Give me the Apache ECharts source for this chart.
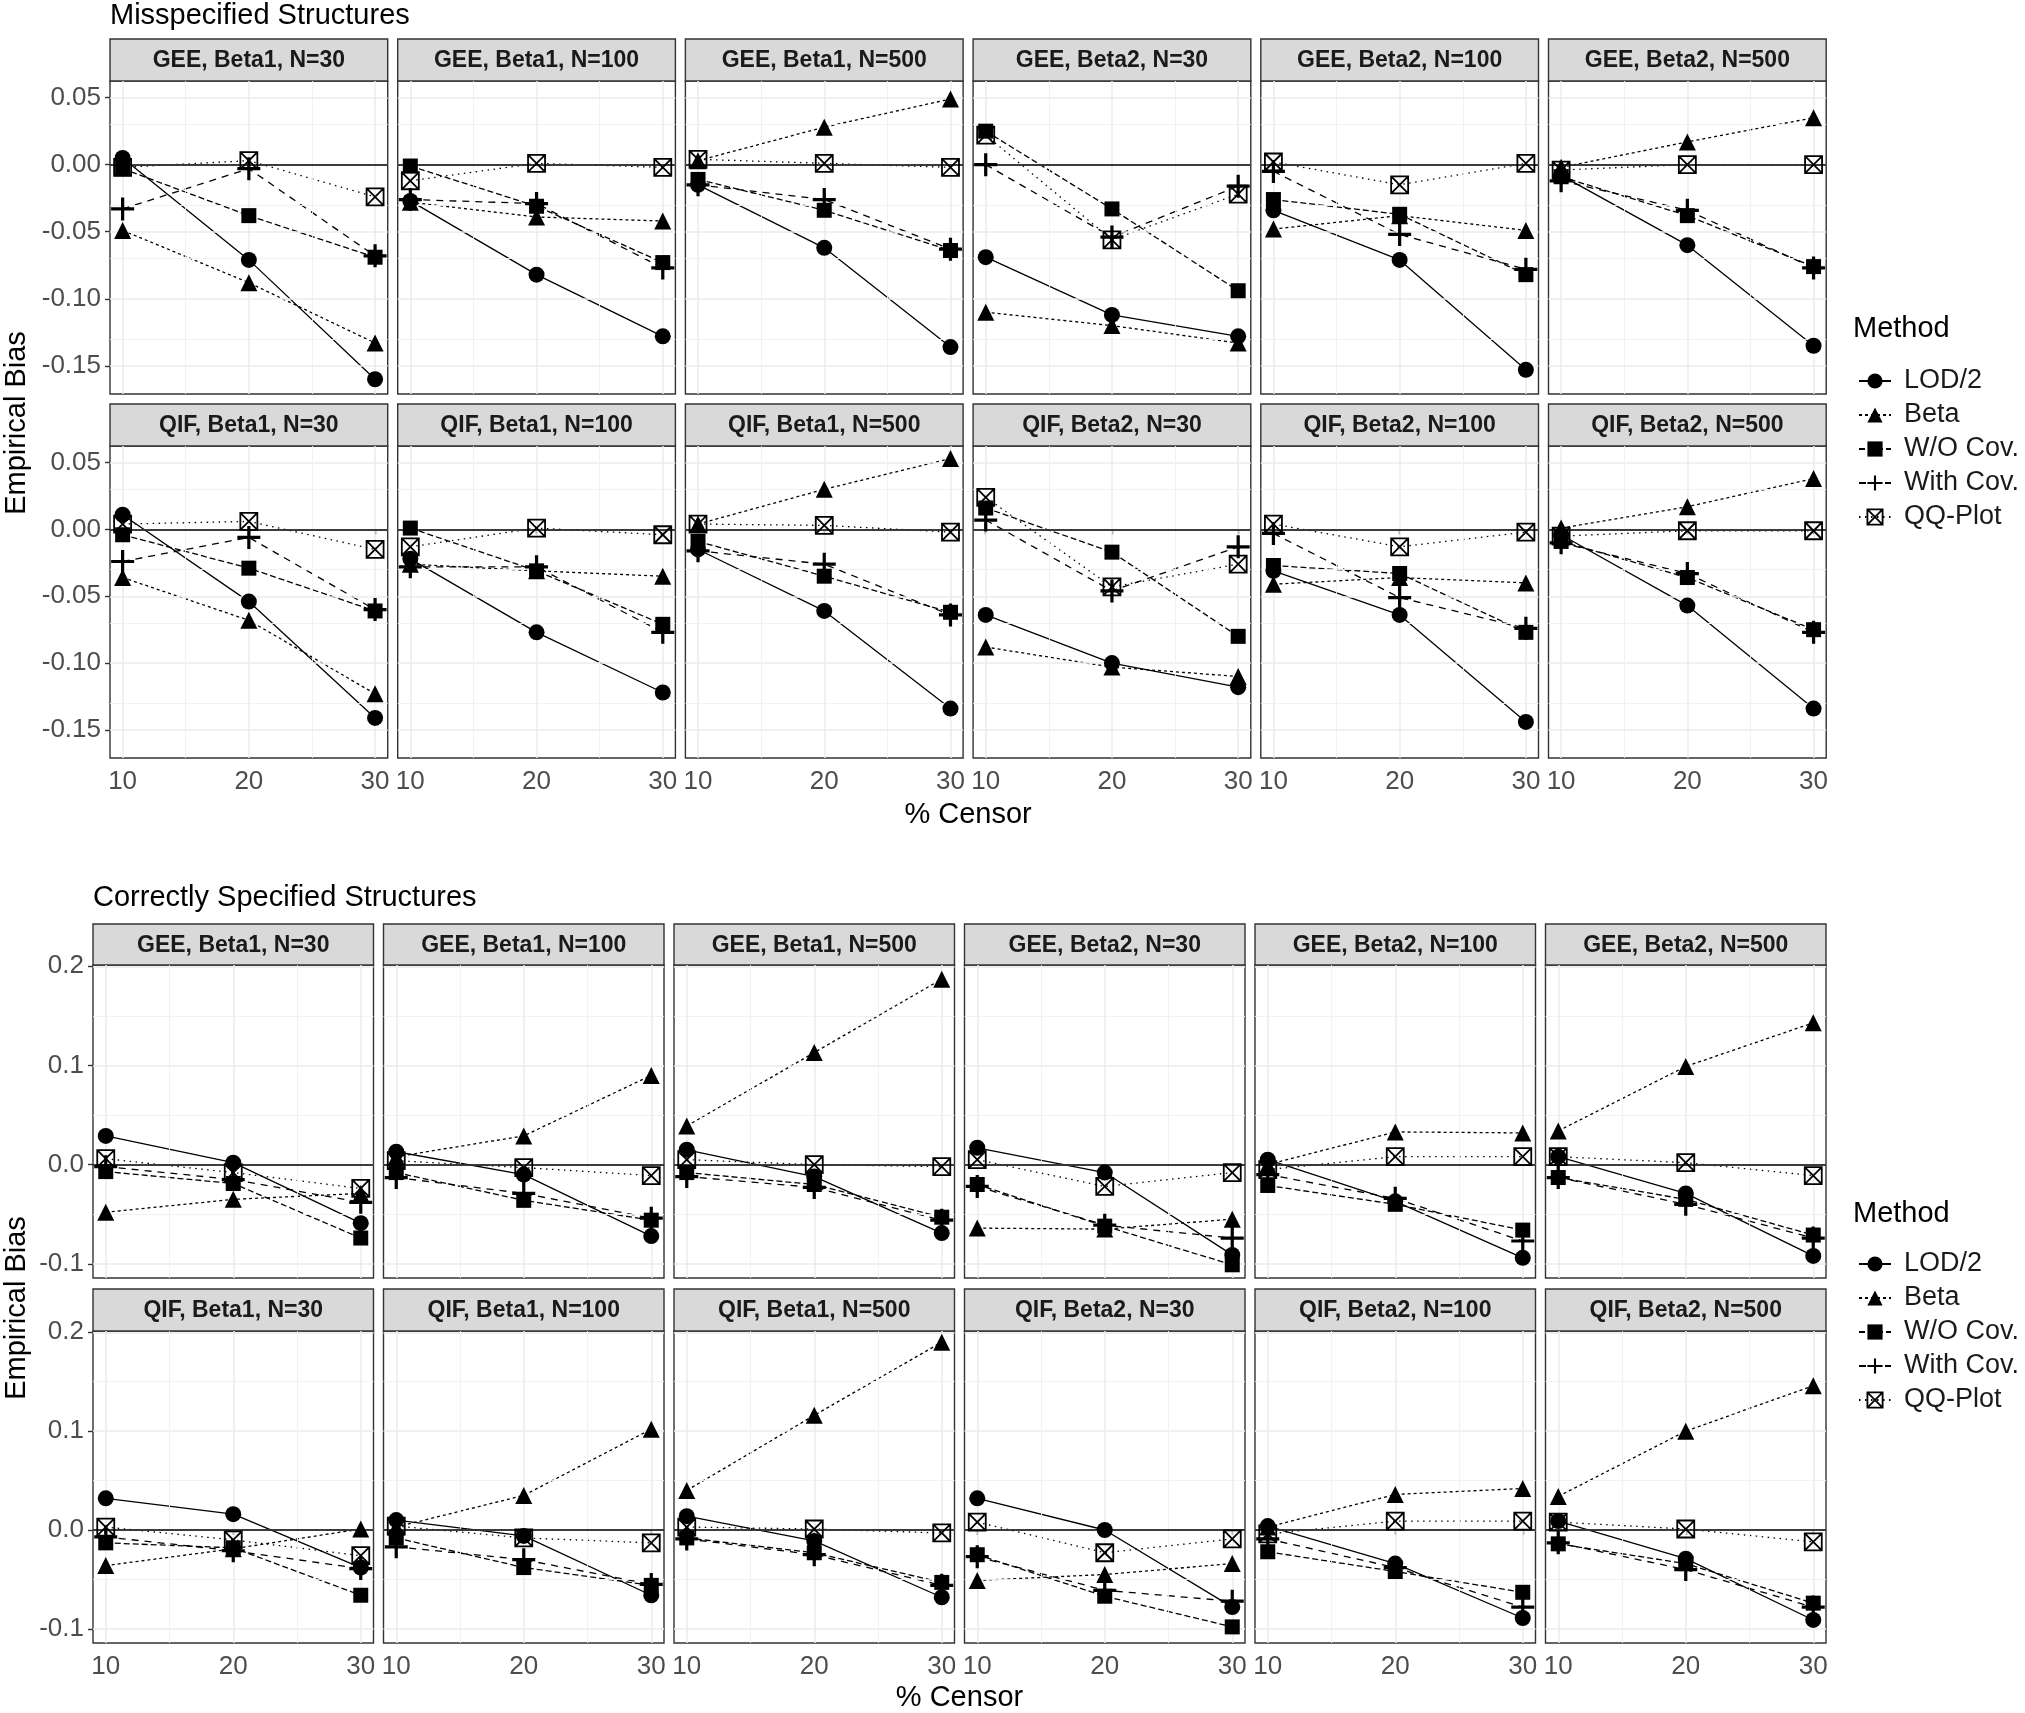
<!DOCTYPE html>
<html><head><meta charset="utf-8">
<script src="https://cdn.jsdelivr.net/npm/echarts@6/dist/echarts.min.js"></script>
<style>html,body{margin:0;padding:0;background:#fff}#c{width:2025px;height:1713px}</style>
</head><body><div id="c"></div><script>
// ---------------- data ----------------
const censor = [10, 20, 30];
const methods = ['LOD/2', 'Beta', 'W/O Cov.', 'With Cov.', 'QQ-Plot'];
const estimators = ['GEE', 'QIF'];
const colTitles = ['Beta1, N=30', 'Beta1, N=100', 'Beta1, N=500', 'Beta2, N=30', 'Beta2, N=100', 'Beta2, N=500'];
const xTicks = [10, 20, 30];
const xMinor = [15, 25];
const misYTicks = [-0.15, -0.10, -0.05, 0, 0.05];
const misYMinor = [-0.125, -0.075, -0.025, 0.025];
const corYTicks = [-0.1, 0, 0.1, 0.2];
const corYMinor = [-0.05, 0.05, 0.15];

// rows: LOD/2, Beta, W/O Cov., With Cov., QQ-Plot ; columns: 10, 20, 30 % censor
const mis_GEE_b1_n30  = [[0.005,-0.071,-0.160],[-0.049,-0.088,-0.133],[-0.003,-0.038,-0.069],[-0.033,-0.003,-0.068],[-0.002,0.003,-0.024]];
const mis_GEE_b1_n100 = [[-0.027,-0.082,-0.128],[-0.028,-0.039,-0.042],[-0.001,-0.031,-0.073],[-0.026,-0.029,-0.077],[-0.012,0.001,-0.002]];
const mis_GEE_b1_n500 = [[-0.015,-0.062,-0.136],[0.003,0.028,0.049],[-0.011,-0.034,-0.064],[-0.015,-0.026,-0.063],[0.004,0.001,-0.002]];
const mis_GEE_b2_n30  = [[-0.069,-0.112,-0.128],[-0.110,-0.120,-0.133],[0.025,-0.033,-0.094],[0.000,-0.054,-0.016],[0.022,-0.056,-0.022]];
const mis_GEE_b2_n100 = [[-0.034,-0.071,-0.153],[-0.048,-0.038,-0.049],[-0.026,-0.037,-0.082],[-0.005,-0.052,-0.078],[0.002,-0.015,0.001]];
const mis_GEE_b2_n500 = [[-0.008,-0.060,-0.135],[-0.002,0.017,0.035],[-0.009,-0.038,-0.076],[-0.012,-0.034,-0.077],[-0.004,0.000,0.000]];
const mis_QIF_b1_n30  = [[0.011,-0.054,-0.141],[-0.036,-0.068,-0.123],[-0.004,-0.029,-0.061],[-0.024,-0.006,-0.060],[0.004,0.006,-0.015]];
const mis_QIF_b1_n100 = [[-0.022,-0.077,-0.122],[-0.026,-0.031,-0.035],[0.001,-0.031,-0.071],[-0.028,-0.028,-0.077],[-0.013,0.001,-0.004]];
const mis_QIF_b1_n500 = [[-0.015,-0.061,-0.134],[0.004,0.030,0.053],[-0.009,-0.035,-0.062],[-0.016,-0.026,-0.064],[0.004,0.003,-0.002]];
const mis_QIF_b2_n30  = [[-0.064,-0.100,-0.118],[-0.088,-0.103,-0.110],[0.016,-0.017,-0.080],[0.007,-0.046,-0.013],[0.024,-0.043,-0.026]];
const mis_QIF_b2_n100 = [[-0.031,-0.064,-0.144],[-0.041,-0.036,-0.040],[-0.027,-0.033,-0.077],[-0.003,-0.051,-0.074],[0.004,-0.013,-0.002]];
const mis_QIF_b2_n500 = [[-0.004,-0.057,-0.134],[0.001,0.017,0.038],[-0.009,-0.036,-0.075],[-0.010,-0.033,-0.077],[-0.005,-0.001,-0.001]];

const cor_GEE_b1_n30  = [[0.029,0.002,-0.059],[-0.048,-0.035,-0.029],[-0.007,-0.019,-0.074],[-0.002,-0.015,-0.038],[0.006,-0.008,-0.024]];
const cor_GEE_b1_n100 = [[0.013,-0.010,-0.072],[0.008,0.029,0.090],[-0.008,-0.036,-0.056],[-0.013,-0.029,-0.054],[0.004,-0.003,-0.011]];
const cor_GEE_b1_n500 = [[0.015,-0.012,-0.069],[0.039,0.113,0.187],[-0.008,-0.020,-0.053],[-0.012,-0.023,-0.056],[0.005,0.000,-0.002]];
const cor_GEE_b2_n30  = [[0.017,-0.008,-0.091],[-0.064,-0.065,-0.055],[-0.020,-0.062,-0.101],[-0.022,-0.061,-0.074],[0.005,-0.022,-0.008]];
const cor_GEE_b2_n100 = [[0.005,-0.037,-0.094],[0.000,0.033,0.032],[-0.021,-0.040,-0.066],[-0.010,-0.034,-0.077],[-0.005,0.008,0.008]];
const cor_GEE_b2_n500 = [[0.008,-0.029,-0.092],[0.034,0.099,0.143],[-0.013,-0.035,-0.071],[-0.013,-0.040,-0.074],[0.008,0.002,-0.011]];
const cor_QIF_b1_n30  = [[0.032,0.016,-0.038],[-0.036,-0.019,0.001],[-0.013,-0.018,-0.066],[-0.007,-0.021,-0.039],[0.003,-0.010,-0.026]];
const cor_QIF_b1_n100 = [[0.010,-0.006,-0.066],[0.003,0.035,0.102],[-0.008,-0.038,-0.056],[-0.017,-0.030,-0.055],[0.004,-0.008,-0.013]];
const cor_QIF_b1_n500 = [[0.014,-0.011,-0.068],[0.040,0.116,0.190],[-0.008,-0.023,-0.053],[-0.009,-0.025,-0.056],[0.003,0.001,-0.003]];
const cor_QIF_b2_n30  = [[0.032,0.000,-0.078],[-0.051,-0.045,-0.034],[-0.025,-0.067,-0.098],[-0.027,-0.061,-0.072],[0.008,-0.023,-0.009]];
const cor_QIF_b2_n100 = [[0.004,-0.034,-0.089],[0.003,0.036,0.042],[-0.022,-0.042,-0.063],[-0.009,-0.038,-0.078],[-0.004,0.009,0.009]];
const cor_QIF_b2_n500 = [[0.009,-0.029,-0.091],[0.034,0.100,0.146],[-0.014,-0.034,-0.074],[-0.013,-0.040,-0.078],[0.008,0.001,-0.012]];

const misPanels = [
  [mis_GEE_b1_n30, mis_GEE_b1_n100, mis_GEE_b1_n500, mis_GEE_b2_n30, mis_GEE_b2_n100, mis_GEE_b2_n500],
  [mis_QIF_b1_n30, mis_QIF_b1_n100, mis_QIF_b1_n500, mis_QIF_b2_n30, mis_QIF_b2_n100, mis_QIF_b2_n500]
];
const corPanels = [
  [cor_GEE_b1_n30, cor_GEE_b1_n100, cor_GEE_b1_n500, cor_GEE_b2_n30, cor_GEE_b2_n100, cor_GEE_b2_n500],
  [cor_QIF_b1_n30, cor_QIF_b1_n100, cor_QIF_b1_n500, cor_QIF_b2_n30, cor_QIF_b2_n100, cor_QIF_b2_n500]
];

// ---------------- styling / layout ----------------
const FONT = "'Liberation Sans', Arial, Helvetica, sans-serif";
const OPEN = {color: 'rgba(0,0,0,0)', borderColor: '#000', borderWidth: 1.8, opacity: 1};
const FILLED = {color: '#000', borderWidth: 0, opacity: 1};
const SYM = [
  {symbol: 'circle', size: 16, item: FILLED},
  {symbol: 'triangle', size: 17, item: FILLED},
  {symbol: 'rect', size: 15, item: FILLED},
  {symbol: 'path://M4.3,0L5.7,0L5.7,4.3L10,4.3L10,5.7L5.7,5.7L5.7,10L4.3,10L4.3,5.7L0,5.7L0,4.3L4.3,4.3Z', size: 23, item: FILLED},
  {symbol: 'path://M0,0L10,0L10,10L0,10ZM0,0L10,10M10,0L0,10', size: 17, item: OPEN}
];
const DASH = ['solid', [3, 3], [6, 3], [7, 6], [1.5, 4.5]];

const sections = [
  {title: 'Misspecified Structures', panels: misPanels, left: 110, pw: 277.7, gap: 10,
   rows: [{st: 39, top: 81, bot: 394}, {st: 404, top: 446, bot: 758}],
   yMin: -0.171, yMax: 0.0624, yTicks: misYTicks, yMinor: misYMinor, dec: 2,
   titleY: 16, yNameY: 423, xNameY: 815, legendTop: 359, methodY: 329},
  {title: 'Correctly Specified Structures', panels: corPanels, left: 93, pw: 280.5, gap: 10,
   rows: [{st: 924, top: 965, bot: 1278}, {st: 1289, top: 1331, bot: 1643}],
   yMin: -0.1143, yMax: 0.2013, yTicks: corYTicks, yMinor: corYMinor, dec: 1,
   titleY: 898, yNameY: 1308, xNameY: 1698, legendTop: 1242, methodY: 1214}
];

const grids = [], xAxes = [], yAxes = [], lineSeries = [], pointSeries = [], bgSeries = [], graphics = [], legends = [];
let gi = 0;
sections.forEach(sec => {
  const totalW = 6 * sec.pw + 5 * sec.gap;
  graphics.push({type: 'text', x: sec.left, y: sec.titleY, silent: true,
    style: {text: sec.title, font: '29px ' + FONT, fill: '#000', textAlign: 'left', textVerticalAlign: 'middle'}});
  graphics.push({type: 'text', x: 17, y: sec.yNameY, rotation: Math.PI / 2, silent: true,
    style: {text: 'Empirical Bias', font: '29px ' + FONT, fill: '#000', textAlign: 'center', textVerticalAlign: 'middle'}});
  graphics.push({type: 'text', x: sec.left + totalW / 2, y: sec.xNameY, silent: true,
    style: {text: '% Censor', font: '29px ' + FONT, fill: '#000', textAlign: 'center', textVerticalAlign: 'middle'}});
  graphics.push({type: 'text', x: 1853, y: sec.methodY, silent: true,
    style: {text: 'Method', font: '29px ' + FONT, fill: '#000', textAlign: 'left', textVerticalAlign: 'middle'}});

  legends.push({
    orient: 'vertical', left: 1853, top: sec.legendTop, itemWidth: 32, itemHeight: 19, itemGap: 0,
    selectedMode: false,
    textStyle: {fontSize: 27, fontFamily: FONT, color: '#1A1A1A', lineHeight: 34, padding: [0, 0, 0, 8]},
    data: methods.map((m, k) => ({name: m, itemStyle: SYM[k].item}))
  });

  sec.rows.forEach((row, r) => {
    for (let c = 0; c < 6; c++) {
      const left = sec.left + c * (sec.pw + sec.gap);
      const bottomRow = r === 1, leftCol = c === 0;
      // strip
      graphics.push({type: 'rect', silent: true, shape: {x: left, y: row.st, width: sec.pw, height: row.top - row.st},
        style: {fill: '#D9D9D9', stroke: '#333333', lineWidth: 1.4}});
      graphics.push({type: 'text', silent: true, x: left + sec.pw / 2, y: (row.st + row.top) / 2 + 1,
        style: {text: estimators[r] + ', ' + colTitles[c], font: 'bold 23px ' + FONT, fill: '#1A1A1A',
                textAlign: 'center', textVerticalAlign: 'middle'}});

      grids.push({left: left, top: row.top, width: sec.pw, height: row.bot - row.top, show: true,
        backgroundColor: '#fff', borderColor: '#333333', borderWidth: 1.4});
      xAxes.push({gridIndex: gi, type: 'value', min: 9, max: 31,
        axisLine: {show: false}, splitLine: {show: false},
        axisTick: {show: bottomRow, customValues: xTicks, length: 5, lineStyle: {color: '#333', width: 1.4}},
        axisLabel: {show: bottomRow, customValues: xTicks, fontSize: 26, fontFamily: FONT, color: '#4D4D4D', margin: 11}});
      yAxes.push({gridIndex: gi, type: 'value', min: sec.yMin, max: sec.yMax,
        axisLine: {show: false}, splitLine: {show: false},
        axisTick: {show: leftCol, customValues: sec.yTicks, length: 5, lineStyle: {color: '#333', width: 1.4}},
        axisLabel: {show: leftCol, customValues: sec.yTicks, fontSize: 26, fontFamily: FONT, color: '#4D4D4D', margin: 9,
          formatter: (v) => Number(v).toFixed(sec.dec)}});

      const gridLines = [];
      sec.yTicks.forEach(v => gridLines.push({yAxis: v, lineStyle: {color: '#EBEBEB', width: 1.5, type: 'solid'}}));
      sec.yMinor.forEach(v => gridLines.push({yAxis: v, lineStyle: {color: '#F1F1F1', width: 0.9, type: 'solid'}}));
      xTicks.forEach(v => gridLines.push({xAxis: v, lineStyle: {color: '#EBEBEB', width: 1.5, type: 'solid'}}));
      xMinor.forEach(v => gridLines.push({xAxis: v, lineStyle: {color: '#F1F1F1', width: 0.9, type: 'solid'}}));
      bgSeries.push({type: 'line', xAxisIndex: gi, yAxisIndex: gi, data: [], silent: true, z: 1, animation: false,
        markLine: {silent: true, symbol: ['none', 'none'], label: {show: false}, animation: false, data: gridLines}});
      bgSeries.push({type: 'line', xAxisIndex: gi, yAxisIndex: gi, data: [], silent: true, z: 2, animation: false,
        markLine: {silent: true, symbol: ['none', 'none'], label: {show: false}, animation: false,
          data: [{yAxis: 0, lineStyle: {color: '#000', width: 1.6, type: 'solid'}}]}});

      const panel = sec.panels[r][c];
      methods.forEach((m, k) => {
        const pts = censor.map((x, i) => [x, panel[k][i]]);
        lineSeries.push({type: 'line', name: m, xAxisIndex: gi, yAxisIndex: gi, data: pts, showSymbol: false,
          symbol: SYM[k].symbol, symbolSize: SYM[k].size, itemStyle: SYM[k].item,
          lineStyle: {color: '#000', width: 1.3, type: DASH[k]}, z: 3, silent: true, animation: false,
          emphasis: {disabled: true}});
        pointSeries.push({type: 'scatter', name: m, xAxisIndex: gi, yAxisIndex: gi, data: pts,
          symbol: SYM[k].symbol, symbolSize: SYM[k].size, itemStyle: SYM[k].item,
          z: 5, silent: true, animation: false, emphasis: {disabled: true}, blur: {itemStyle: {opacity: 1}}});
      });
      gi++;
    }
  });
});

const chart = echarts.init(document.getElementById('c'), null, {renderer: 'canvas'});
chart.setOption({
  backgroundColor: '#fff',
  animation: false,
  grid: grids, xAxis: xAxes, yAxis: yAxes,
  series: bgSeries.concat(lineSeries, pointSeries),
  legend: legends,
  graphic: {elements: graphics}
});
</script></body></html>
